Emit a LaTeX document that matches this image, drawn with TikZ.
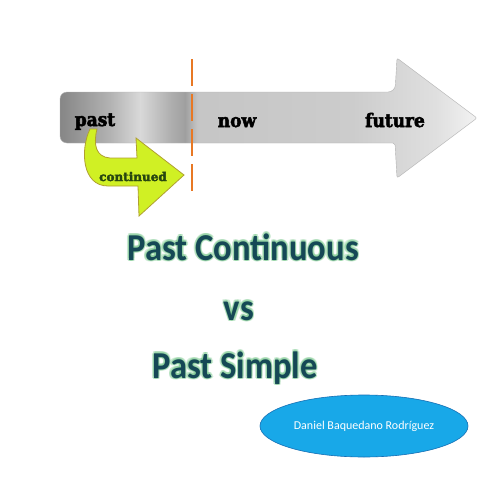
\documentclass[tikz,border=0pt]{standalone}
\usepackage{fontspec}
\usetikzlibrary{calc,shapes.geometric}
\newfontfamily\titlefont{Carlito}
\newfontfamily\timefont{DejaVu Serif Bold}[FakeBold=3]
\definecolor{titleteal}{RGB}{22,72,86}
\definecolor{titleglow}{RGB}{120,200,140}
\definecolor{nowline}{RGB}{232,120,36}
\definecolor{contfill}{RGB}{208,240,36}
\definecolor{contedge}{RGB}{176,160,48}
\definecolor{conttext}{RGB}{40,70,16}
\definecolor{namefill}{RGB}{24,168,232}
\definecolor{nameedge}{RGB}{20,110,180}
\pgfdeclarehorizontalshading{timeline}{100bp}{%
  color(0bp)=(gray!95); color(25bp)=(gray!95); color(31bp)=(gray!60);
  color(34.6bp)=(gray!30); color(38.5bp)=(gray!65); color(40bp)=(gray!75);
  color(41.5bp)=(gray!45); color(60bp)=(gray!40); color(70bp)=(gray!25);
  color(75bp)=(gray!10); color(100bp)=(gray!10)}
\tikzset{
  timeword/.style={font=\timefont\fontsize{17}{19}\selectfont, anchor=base, yscale=1.1},
  titleword/.style={font=\titlefont\bfseries\fontsize{38}{40}\selectfont, anchor=base, xscale=0.91}
}
\begin{document}
\begin{tikzpicture}[x=1pt, y=-1pt]
  \useasboundingbox[fill=white] (0,0) rectangle (480,480);

  % (1) time line
  \path[shading=timeline, draw=gray!60, rounded corners=7]
    (395,143) -| (60,92) -- (395,92) [rounded corners=2] -- (397,58)
    -- (477,118) -- (397,178) -- cycle;
  \node[timeword] (past) at (95,126) {past};
  \node[timeword] (now) at (237,127) {now};
  \node[timeword] (future) at (395,127) {future};

  % (2) now
  \draw[nowline, line width=2.5pt, dash pattern=on 27pt off 8pt]
    (192,59) coordinate (nowtop) -- (192,193) coordinate (nowbot);

  % (3) continued arrow
  \draw[fill=contfill, draw=contedge, line width=0.8pt]
    (90,129) .. controls (80,150) and (82,186) .. (108,186) -- (138,186)
    -- (139,216) -- (184,175) -- (136,138) -- (137,158) -- (110,158)
    .. controls (96,157) and (93,145) .. (97,129) -- cycle;
  \node[font=\timefont\fontsize{12}{14}\selectfont, text=conttext, anchor=base]
    (cont) at (133,181) {continued};

  % (4) title
  \foreach \a in {0,45,...,315}
    \foreach \txt/\x/\y in {Past Continuous/243/260, vs/239/320, Past Simple/235/378}
      \node[titleword, text=titleglow, opacity=0.35] at ($(\x,\y)+(\a:1.6)$) {\txt};
  \node[titleword, text=titleteal] (pastcont) at (243,260) {Past Continuous};
  \node[titleword, text=titleteal] (versus) at (239,320) {vs};
  \node[titleword, text=titleteal] (pastsimple) at (235,378) {Past Simple};

  % (5) author
  \node[ellipse, fill=namefill, draw=nameedge, line width=0.6pt,
        minimum width=208, minimum height=62, inner sep=0pt,
        font=\titlefont\fontsize{12}{14}\selectfont, text=white] (author) at (364,426)
    {Daniel Baquedano Rodríguez};
\end{tikzpicture}
\end{document}
